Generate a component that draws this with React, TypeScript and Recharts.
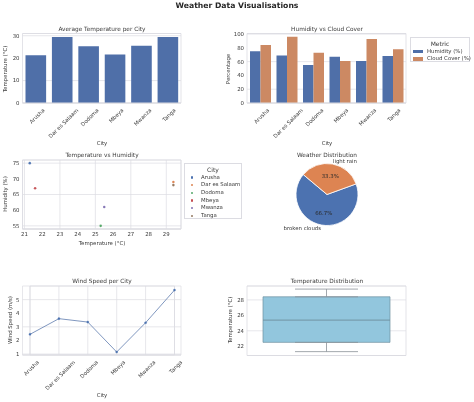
import React from "react";
import {
  BarChart, Bar, LineChart, Line, ScatterChart, Scatter, PieChart, Pie, Cell, ComposedChart,
  XAxis, YAxis, CartesianGrid, Legend, ReferenceArea, ErrorBar,
} from "recharts";

const FONT = "DejaVu Sans";
const TEXT = "#3a3a3a";
const GRID = "#dcdce2";
const BLUE = "#4f6fa8";
const ORANGE = "#cc8963";
const FS = 5.4;

const cities = ["Arusha", "Dar es Salaam", "Dodoma", "Mbeya", "Mwanza", "Tanga"];
const temperature = [21.3, 29.4, 25.3, 21.6, 25.5, 29.4];
const humidity = [75, 69, 55, 67, 61, 68];
const cloudCover = [84, 96, 73, 61, 93, 78];
const windSpeed = [2.45, 3.6, 3.35, 1.15, 3.3, 5.7];
const cityColors = ["#4c72b0", "#dd8452", "#55a868", "#c44e52", "#8172b3", "#937860"];
const weatherNames = ["broken clouds", "light rain"];
const weatherCounts = [4, 2];
const weatherColors = ["#4c72b0", "#dd8452"];
const boxStats = { low: 21.3, q1: 22.5, median: 25.4, q3: 28.4, high: 29.4 };

const tempTicks = [0, 10, 20, 30];
const pctTicks = [0, 20, 40, 60, 80, 100];
const scatterXTicks = [21, 22, 23, 24, 25, 26, 27, 28, 29];
const scatterYTicks = [55, 60, 65, 70, 75];
const windTicks = [1, 2, 3, 4, 5];
const boxTicks = [22, 24, 26, 28];

const tableA = cities.map((city, i) => ({
  city, temperature: temperature[i], humidity: humidity[i], cloud: cloudCover[i], wind: windSpeed[i],
}));
const pieData = weatherNames.map((name, i) => ({ name, value: weatherCounts[i] }));
const boxData = [{
  name: "t",
  base: boxStats.q1,
  lower: boxStats.median - boxStats.q1,
  upper: boxStats.q3 - boxStats.median,
  q1: boxStats.q1,
  q3: boxStats.q3,
  errLow: [boxStats.q1 - boxStats.low, 0],
  errHigh: [0, boxStats.high - boxStats.q3],
}];

const W = 474, H = 402;
const box = (L: number, R: number, T: number, B: number, yw = 14, xh = 12) => ({
  margin: { left: L - yw, right: W - R, top: T, bottom: H - B - xh },
  yw, xh,
});
const abs: React.CSSProperties = { position: "absolute", left: 0, top: 0 };

let ctx: CanvasRenderingContext2D | null = null;
const measure = (s: string) => {
  if (!ctx) ctx = document.createElement("canvas").getContext("2d");
  ctx!.font = `${FS}px "${FONT}"`;
  return ctx!.measureText(s).width;
};

const RotTick = ({ x, y, payload }: any) => {
  const w = measure(payload.value);
  const cx = x + 1.2;
  const cy = y + 1.5 + (w + 5) * 0.3536;
  return (
    <text x={cx} y={cy} dy={2} textAnchor="middle" fontSize={FS} fontFamily={FONT} fill={TEXT}
      transform={`rotate(-45 ${cx} ${cy})`}>{payload.value}</text>
  );
};

const tick = { fontSize: FS, fontFamily: FONT, fill: TEXT };
const Title = ({ x, y, children, size = 5.8, bold = false, color = TEXT, rot = 0 }: any) => (
  <div style={{
    position: "absolute", left: x - 100, top: y - 8, width: 200, height: 16, lineHeight: "16px",
    textAlign: "center", fontFamily: FONT, fontSize: size, fontWeight: bold ? 700 : 400, color,
    transform: rot ? `rotate(${rot}deg)` : undefined, whiteSpace: "nowrap",
  }}>{children}</div>
);

const LegendBox = ({ payload, title, left, top, width, height, gap, patch }: any) => (
  <div style={{
    position: "absolute", left, top, width, height, boxSizing: "border-box",
    border: `0.6px solid ${GRID}`, background: "#fff", fontFamily: FONT, fontSize: FS, color: TEXT,
  }}>
    <div style={{ textAlign: "center", fontSize: 6, lineHeight: "8px", marginTop: 1.5 }}>{title}</div>
    {(payload || []).map((p: any) => (
      <div key={p.value} style={{ position: "relative", height: gap, lineHeight: `${gap}px`, whiteSpace: "nowrap" }}>
        {patch
          ? <span style={{ position: "absolute", left: 2, top: gap / 2 - 1.5, width: 10, height: 3.4, background: p.color }} />
          : <span style={{ position: "absolute", left: 6, top: gap / 2 - 1.2, width: 2.4, height: 2.4, borderRadius: "50%", background: p.color }} />}
        <span style={{ position: "absolute", left: 16 }}>{p.value}</span>
      </div>
    ))}
  </div>
);
const hiddenLegend: React.CSSProperties = { position: "absolute", left: 0, top: 0, width: 0, height: 0 };

const Dot = (color: string) => (p: any) => (
  <circle cx={p.cx} cy={p.cy} r={1.3} fill={color} stroke="#fff" strokeWidth={0.15} />
);

const PieLabel = (p: any) => {
  const rad = (p.midAngle * Math.PI) / 180;
  const lx = p.cx + p.outerRadius * 1.1 * Math.cos(rad);
  const ly = p.cy - p.outerRadius * 1.1 * Math.sin(rad);
  const px = p.cx + p.outerRadius * 0.6 * Math.cos(rad);
  const py = p.cy - p.outerRadius * 0.6 * Math.sin(rad);
  return (
    <g fontFamily={FONT} fontSize={FS}>
      <text x={lx} y={ly} dy={2} textAnchor={lx > p.cx ? "start" : "end"} fill={TEXT}>{p.name}</text>
      <text x={px} y={py} dy={2} textAnchor="middle" fill="#2a2a2a">{(p.percent * 100).toFixed(1)}%</text>
    </g>
  );
};

const yProps = { tick, tickLine: false, axisLine: false, tickSize: 3, tickMargin: 0, allowDataOverflow: true };

export default function App() {
  const p1 = box(22.5, 181, 33.5, 103);
  const p2 = box(247, 406, 33.5, 103);
  const p3 = box(22.5, 181, 160, 229);
  const p5 = box(22.5, 181, 286, 355);
  const p6 = box(247, 406, 286, 355.5);
  return (
    <div style={{ position: "absolute", left: 0, top: 0, width: W, height: H, background: "#fff", overflow: "hidden", filter: "blur(0.3px)" }}>
      <BarChart style={abs} width={W} height={H} data={tableA} margin={p1.margin} barSize={20.6}>
        <ReferenceArea y1={0} y2={31} fill="none" stroke={GRID} strokeWidth={0.8} ifOverflow="visible" />
        <CartesianGrid vertical={false} stroke={GRID} strokeWidth={0.7} />
        <XAxis dataKey="city" interval={0} tick={RotTick} tickLine={false} tickSize={3} tickMargin={0} axisLine={{ stroke: GRID }} height={p1.xh} />
        <YAxis domain={[0, 31]} ticks={tempTicks} width={p1.yw} {...yProps} />
        <Bar dataKey="temperature" fill={BLUE} isAnimationActive={false} />
      </BarChart>

      <BarChart style={abs} width={W} height={H} data={tableA} margin={p2.margin} barSize={10.5} barGap={0}>
        <ReferenceArea y1={0} y2={100.8} fill="none" stroke={GRID} strokeWidth={0.8} ifOverflow="visible" />
        <CartesianGrid vertical={false} stroke={GRID} strokeWidth={0.7} />
        <XAxis dataKey="city" interval={0} tick={RotTick} tickLine={false} tickSize={3} tickMargin={0} axisLine={{ stroke: GRID }} height={p2.xh} />
        <YAxis domain={[0, 100.8]} ticks={pctTicks} width={p2.yw} {...yProps} />
        <Legend itemSorter={null as any} wrapperStyle={hiddenLegend} content={(props: any) => (
          <LegendBox payload={props.payload} title="Metric" left={410} top={37} width={60} height={25} gap={7.6} patch />
        )} />
        <Bar dataKey="humidity" name="Humidity (%)" fill={BLUE} isAnimationActive={false} />
        <Bar dataKey="cloud" name="Cloud Cover (%)" fill={ORANGE} isAnimationActive={false} />
      </BarChart>

      <ScatterChart style={abs} width={W} height={H} margin={p3.margin}>
        <ReferenceArea y1={54} y2={76} fill="none" stroke={GRID} strokeWidth={0.8} ifOverflow="visible" />
        <CartesianGrid stroke={GRID} strokeWidth={0.7} />
        <XAxis type="number" dataKey="temperature" domain={[20.89, 29.83]} ticks={scatterXTicks} tick={tick} tickLine={false} tickSize={3} tickMargin={0} axisLine={{ stroke: GRID }} height={p3.xh} allowDataOverflow />
        <YAxis type="number" dataKey="humidity" domain={[54, 76]} ticks={scatterYTicks} width={p3.yw} {...yProps} />
        <Legend wrapperStyle={hiddenLegend} content={(props: any) => (
          <LegendBox payload={props.payload} title="City" left={184} top={163} width={58} height={56} gap={7.7} />
        )} />
        {tableA.map((row, i) => (
          <Scatter key={row.city} name={row.city} data={[row]} fill={cityColors[i]} shape={Dot(cityColors[i])} isAnimationActive={false} />
        ))}
      </ScatterChart>

      <PieChart style={abs} width={W} height={H} margin={{ left: 0, right: 0, top: 0, bottom: 0 }}>
        <Pie data={pieData} dataKey="value" nameKey="name" cx={327} cy={194.5} outerRadius={31}
          startAngle={140} endAngle={500} stroke="#fff" strokeWidth={0.8} label={PieLabel} labelLine={false} isAnimationActive={false}>
          {pieData.map((d, i) => <Cell key={d.name} fill={weatherColors[i]} />)}
        </Pie>
      </PieChart>

      <LineChart style={abs} width={W} height={H} data={tableA} margin={p5.margin}>
        <ReferenceArea y1={0.93} y2={6} fill="none" stroke={GRID} strokeWidth={0.8} ifOverflow="visible" />
        <CartesianGrid stroke={GRID} strokeWidth={0.7} />
        <XAxis dataKey="city" interval={0} scale="point" padding={{ left: 7.5, right: 6.5 }} tick={RotTick} tickLine={false} tickSize={3} tickMargin={0} axisLine={{ stroke: GRID }} height={p5.xh} />
        <YAxis domain={[0.93, 6]} ticks={windTicks} width={p5.yw} {...yProps} />
        <Line dataKey="wind" stroke="#5f7cae" strokeWidth={0.8} dot={{ r: 1.1, fill: "#4c72b0", stroke: "#4c72b0", strokeWidth: 0.3 }} isAnimationActive={false} />
      </LineChart>

      <ComposedChart style={abs} width={W} height={H} data={boxData} margin={p6.margin} barSize={127}>
        <ReferenceArea y1={20.8} y2={29.8} fill="none" stroke={GRID} strokeWidth={0.8} ifOverflow="visible" />
        <CartesianGrid vertical={false} stroke={GRID} strokeWidth={0.7} />
        <XAxis dataKey="name" tick={false} tickLine={false} axisLine={{ stroke: GRID }} height={p6.xh} />
        <YAxis domain={[20.8, 29.8]} ticks={boxTicks} width={p6.yw} {...yProps} />
        <Bar dataKey="base" stackId="b" fill="none" isAnimationActive={false} />
        <Bar dataKey="lower" stackId="b" fill="#92c6dd" stroke="#6f8f9f" strokeWidth={0.7} isAnimationActive={false} />
        <Bar dataKey="upper" stackId="b" fill="#92c6dd" stroke="#6f8f9f" strokeWidth={0.7} isAnimationActive={false} />
        <Line dataKey="q3" stroke="none" dot={{ r: 0, fill: "none", stroke: "none" }} isAnimationActive={false}>
          <ErrorBar dataKey="errHigh" width={31.5} stroke="#8a9298" strokeWidth={0.8} direction="y" isAnimationActive={false} />
        </Line>
        <Line dataKey="q1" stroke="none" dot={{ r: 0, fill: "none", stroke: "none" }} isAnimationActive={false}>
          <ErrorBar dataKey="errLow" width={31.5} stroke="#8a9298" strokeWidth={0.8} direction="y" isAnimationActive={false} />
        </Line>
      </ComposedChart>

      <Title x={237} y={6} size={7.7} bold color="#262626">Weather Data Visualisations</Title>
      <Title x={102} y={29}>Average Temperature per City</Title>
      <Title x={327} y={29}>Humidity vs Cloud Cover</Title>
      <Title x={102} y={155}>Temperature vs Humidity</Title>
      <Title x={327} y={155}>Weather Distribution</Title>
      <Title x={102} y={281}>Wind Speed per City</Title>
      <Title x={327} y={281}>Temperature Distribution</Title>

      <Title x={102} y={143} size={5.4}>City</Title>
      <Title x={327} y={143} size={5.4}>City</Title>
      <Title x={102} y={243} size={5.4}>Temperature (°C)</Title>
      <Title x={102} y={395} size={5.4}>City</Title>
      <Title x={5} y={69} rot={-90} size={5.4}>Temperature (°C)</Title>
      <Title x={228} y={69} rot={-90} size={5.4}>Percentage</Title>
      <Title x={5} y={194} rot={-90} size={5.4}>Humidity (%)</Title>
      <Title x={9.5} y={320} rot={-90} size={5.4}>Wind Speed (m/s)</Title>
      <Title x={230} y={320} rot={-90} size={5.4}>Temperature (°C)</Title>
    </div>
  );
}
